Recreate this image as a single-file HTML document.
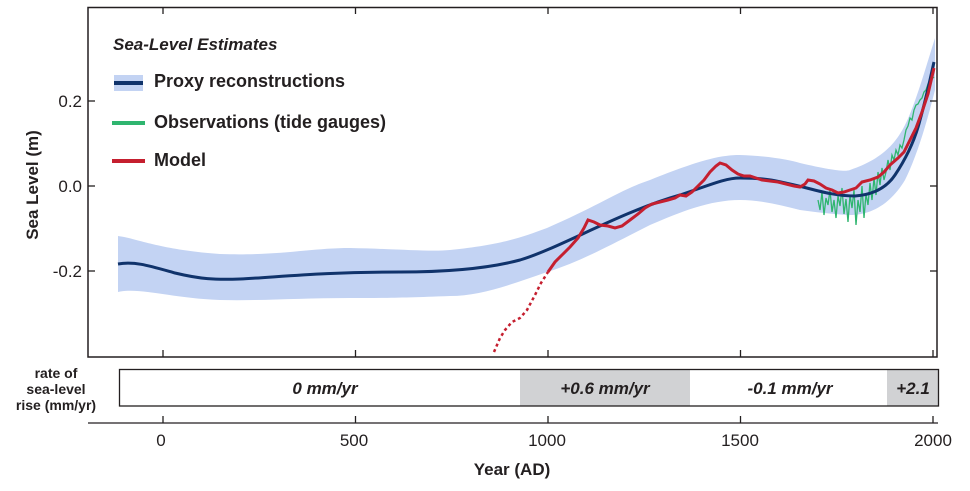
<!DOCTYPE html>
<html><head><meta charset="utf-8"><style>
body{margin:0;background:#fff;width:970px;height:486px;overflow:hidden}
text{font-family:"Liberation Sans",sans-serif;fill:#231f20}
</style></head><body>
<svg width="970" height="486" viewBox="0 0 970 486">
<path d="M118,236 C135,238 160,250 220,254 C280,256 310,248 350,248 C400,249 430,252 450,250 C500,245 520,238 547,228 C600,205 620,190 650,180 C700,160 720,155 740,155 C770,156 790,160 800,163 C830,170 845,172 850,170 C880,160 895,145 905,125 C915,105 925,70 935,38 L935,90 C925,130 915,160 905,180 C890,205 870,215 850,215 C830,214 815,212 800,210 C780,205 760,200 740,200 C710,200 680,212 650,225 C610,245 580,262 547,272 C510,285 480,296 450,296 C400,298 380,298 350,298 C300,298 260,301 220,300 C170,298 140,287 118,292 Z" fill="#c3d3f3"/>
<polyline fill="none" stroke="#2fb56f" stroke-width="1.3" points="818,200 820,210 822,192 824,215 826,198 828,205 830,190 832,212 834,200 836,218 838,196 840,206 842,188 844,214 846,199 848,222 850,195 852,208 854,190 856,225 858,200 860,212 862,186 864,218 866,194 868,205 870,183 872,200 874,178 876,195 878,172 880,185 882,168 884,180 886,172 888,160 890,170 892,155 894,160 896,150 898,155 900,145 902,148 904,140 906,130 908,126 910,118 912,120 914,110 916,105 918,104 920,100 922,98 924,92 926,90 928,84 930,80 932,76 934,78"/>
<path d="M118,264 C135,261 150,266 175,273 C200,279 215,280 240,279 C280,277 320,272 400,272 C450,272 490,268 520,260 C560,248 620,212 680,195 C710,185 725,178 740,178 C770,178 780,182 790,184 C810,188 830,196 855,196 C870,195 885,190 895,175 C905,160 915,140 920,120 C927,95 931,75 934,62" fill="none" stroke="#10336b" stroke-width="3"/>
<polyline fill="none" stroke="#c51f2f" stroke-width="2.5" stroke-dasharray="3,3" points="494,352 500,338 505,330 512,322 520,318 527,310 535,295 541,283 548,272"/>
<polyline fill="none" stroke="#c51f2f" stroke-width="3" points="548,272 555,262 562,255 570,247 578,238 584,228 588,220 594,222 600,225 608,226 615,228 622,226 630,220 638,214 645,208 652,204 660,202 668,200 675,198 680,195 686,196 692,192 698,186 704,180 710,172 716,166 720,163 726,165 732,170 738,174 744,176 750,176 756,178 762,180 770,181 778,182 786,184 794,186 800,187 805,184 808,180 814,181 820,184 826,188 832,190 838,193 844,192 850,190 856,188 862,182 870,180 878,177 884,172 890,165 898,158 904,152 910,140 916,128 922,112 928,94 934,68"/>
<rect x="88" y="7.5" width="849" height="349.5" fill="none" stroke="#231f20" stroke-width="1.5"/>
<g stroke="#231f20" stroke-width="1.3">
<line x1="163" y1="7" x2="163" y2="14"/><line x1="355.5" y1="7" x2="355.5" y2="14"/><line x1="548" y1="7" x2="548" y2="14"/><line x1="740.5" y1="7" x2="740.5" y2="14"/><line x1="933" y1="7" x2="933" y2="14"/>
<line x1="163" y1="357" x2="163" y2="350"/><line x1="355.5" y1="357" x2="355.5" y2="350"/><line x1="548" y1="357" x2="548" y2="350"/><line x1="740.5" y1="357" x2="740.5" y2="350"/><line x1="933" y1="357" x2="933" y2="350"/>
<line x1="88" y1="101" x2="95" y2="101"/><line x1="88" y1="186" x2="95" y2="186"/><line x1="88" y1="271" x2="95" y2="271"/>
<line x1="937" y1="101" x2="930" y2="101"/><line x1="937" y1="186" x2="930" y2="186"/><line x1="937" y1="271" x2="930" y2="271"/>
<line x1="88" y1="423" x2="938" y2="423"/>
<line x1="163" y1="423" x2="163" y2="416"/><line x1="355.5" y1="423" x2="355.5" y2="416"/><line x1="548" y1="423" x2="548" y2="416"/><line x1="740.5" y1="423" x2="740.5" y2="416"/><line x1="933" y1="423" x2="933" y2="416"/>
</g>
<g font-size="17" text-anchor="end"><text x="82" y="107">0.2</text><text x="82" y="192">0.0</text><text x="82" y="277">-0.2</text></g>
<text transform="translate(38,185) rotate(-90)" font-size="17" font-weight="bold" text-anchor="middle">Sea Level (m)</text>
<text x="113" y="50" font-size="17" font-weight="bold" font-style="italic">Sea-Level Estimates</text>
<rect x="114" y="75" width="29" height="16" fill="#c3d3f3"/><rect x="114" y="81" width="29" height="4" fill="#10336b"/>
<text x="154" y="87" font-size="18" font-weight="bold">Proxy reconstructions</text>
<rect x="112" y="121" width="33" height="4" fill="#2fb56f"/>
<text x="154" y="128" font-size="18" font-weight="bold">Observations (tide gauges)</text>
<rect x="112" y="159" width="33" height="4" fill="#c51f2f"/>
<text x="154" y="166" font-size="18" font-weight="bold">Model</text>
<rect x="520" y="369" width="170" height="37" fill="#d1d2d4"/>
<rect x="887" y="369" width="52" height="37" fill="#d1d2d4"/>
<rect x="119.5" y="369.5" width="819" height="36.5" fill="none" stroke="#231f20" stroke-width="1.3"/>
<g font-size="17" font-weight="bold" font-style="italic" text-anchor="middle">
<text x="325" y="394">0 mm/yr</text><text x="605" y="394">+0.6 mm/yr</text><text x="790" y="394">-0.1 mm/yr</text><text x="913" y="394">+2.1</text></g>
<g font-size="14" font-weight="bold" text-anchor="middle"><text x="56" y="378">rate of</text><text x="56" y="394">sea-level</text><text x="56" y="410">rise (mm/yr)</text></g>
<g font-size="17" text-anchor="middle"><text x="161" y="446">0</text><text x="354" y="446">500</text><text x="547" y="446">1000</text><text x="740" y="446">1500</text><text x="933" y="446">2000</text></g>
<text x="512" y="475" font-size="17" font-weight="bold" text-anchor="middle">Year (AD)</text>
</svg>
</body></html>
